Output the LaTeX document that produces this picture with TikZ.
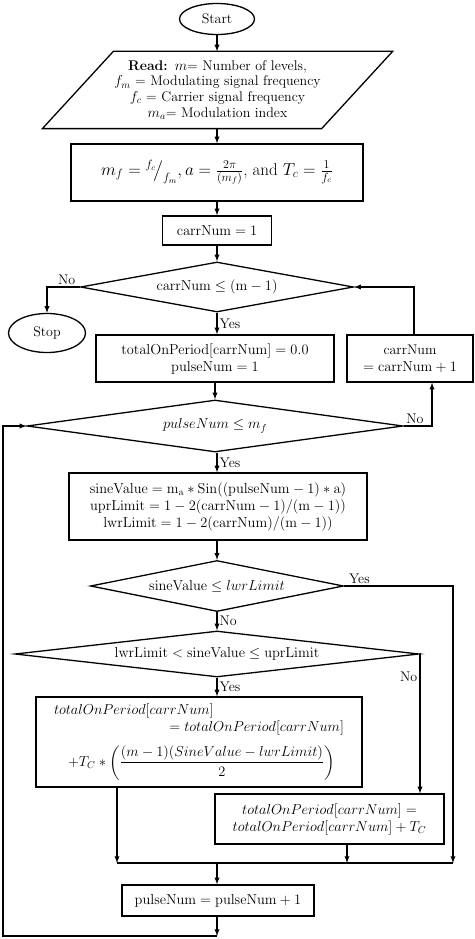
\documentclass[tikz,border=0pt]{standalone}
\usepackage{amsmath}
\usepackage{tikz}
\usetikzlibrary{shapes,arrows,positioning}
\newcommand{\bigfont}{\fontsize{14}{17}\selectfont}
\newcommand{\vn}[1]{\mathrm{#1}}
\tikzstyle{term} = [ellipse, draw, line width=1.3pt, inner sep=0pt, font=\bigfont]
\tikzstyle{proc} = [rectangle, draw, line width=1.3pt, align=center, inner sep=0pt, font=\bigfont]
\tikzstyle{cond} = [diamond, draw, line width=1.3pt, inner sep=0pt, font=\bigfont]
\tikzstyle{line} = [draw, line width=1.3pt]
\tikzstyle{flow} = [draw, line width=1.3pt, -latex]
\tikzstyle{lbl} = [font=\bigfont, inner sep=2pt]

\begin{document}
\begin{tikzpicture}[x=1pt, y=-1pt]
	\useasboundingbox (0,0) rectangle (474,939);
	\node [term, minimum width=75pt, minimum height=31pt] (start) at (217,19) {Start};
	\node [proc, draw=none, minimum width=278pt, minimum height=76pt, font=\fontsize{14}{15.7}\selectfont] (read) at (217.5,90) {\textbf{Read:}\enspace $m$= Number of levels,\\ $f_m$ = Modulating signal frequency\\ $f_c$ = Carrier signal frequency\\ $m_a$= Modulation index};
	\path [line] ([xshift=35.5pt]read.north west) -- ([xshift=35.5pt]read.north east) -- ([xshift=-35.5pt]read.south east) -- ([xshift=-35.5pt]read.south west) -- cycle;
	\node [proc, minimum width=292pt, minimum height=57pt, font=\fontsize{17}{20}\selectfont] (ratio) at (217,172.5) {$m_f = {}^{f_c}\!\big/_{f_m}, a = \frac{2\pi}{(m_f)}$, and $T_c = \frac{1}{f_c}$};
	\node [proc, minimum width=109pt, minimum height=29pt] (init) at (217,230.5) {$\vn{carrNum} = 1$};
	\node [cond, aspect=5.5, minimum width=273pt, minimum height=50pt] (chkcarr) at (217,287) {$\vn{carrNum} \leq (\vn{m}-1)$};
	\node [term, minimum width=77pt, minimum height=39pt] (stop) at (47,333) {Stop};
	\node [proc, minimum width=238pt, minimum height=47pt] (reset) at (215,358.5) {$\vn{totalOnPeriod[carrNum]} = 0.0$\\ $\vn{pulseNum} = 1$};
	\node [proc, minimum width=126pt, minimum height=47pt] (inc) at (410,358.5) {carrNum\\ $= \vn{carrNum} + 1$};
	\node [cond, aspect=7.2, minimum width=376pt, minimum height=52pt] (chkpulse) at (215,426) {$pulseNum \leq m_f$};
	\node [proc, minimum width=298pt, minimum height=67pt] (calc) at (218,506.5) {$\vn{sineValue} = \vn{m_a} * \vn{Sin}((\vn{pulseNum}-1)*\vn{a})$\\ $\vn{uprLimit} = 1 - 2(\vn{carrNum}-1)/(\vn{m}-1))$\\ $\vn{lwrLimit} = 1 - 2(\vn{carrNum})/(\vn{m}-1))$};
	\node [cond, aspect=5, minimum width=253pt, minimum height=51pt] (chkl) at (217,586) {$\vn{sineValue} \leq lwrLimit$};
	\node [cond, aspect=8.8, minimum width=404pt, minimum height=46pt] (chkband) at (217,654) {$\vn{lwrLimit} < \vn{sineValue} \leq \vn{uprLimit}$};
	\node [proc, align=left, minimum width=326pt, minimum height=90pt] (partial) at (199,742) {\makebox[290pt][l]{$totalOnPeriod[carrNum]$}\\ \makebox[290pt][r]{$= totalOnPeriod[carrNum]$}\\[9pt] \makebox[290pt][l]{\hspace{14pt}$+T_C * \left(\dfrac{(m-1)(SineValue-lwrLimit)}{2}\right)$}};
	\node [proc, minimum width=229pt, minimum height=50pt] (full) at (329.5,819) {$totalOnPeriod[carrNum] =$\\ $totalOnPeriod[carrNum] + T_C$};
	\node [proc, minimum width=192pt, minimum height=31pt] (next) at (218,900.5) {$\vn{pulseNum} = \vn{pulseNum} + 1$};
	
	\coordinate (jl) at (117,863);
	\coordinate (jm) at (347,863);
	\coordinate (jc) at (217,863);
	\coordinate (jr) at (453,863);
	\coordinate (back) at (217,936);
	\coordinate (corner) at (3,936);
	
	\path [flow] (start.south) -- (start.south |- read.north);
	\path [flow] (read.south -| start.south) -- (start.south |- ratio.north);
	\path [flow] (ratio.south) -- (ratio.south |- init.north);
	\path [flow] (init.south) -- (init.south |- chkcarr.north);
	\path [flow] (chkcarr.west) -| node [lbl, above, pos=0.2] {No} (stop.north);
	\path [flow] (chkcarr.south) -- node [lbl, right] {Yes} (chkcarr.south |- reset.north);
	\path [flow] ([xshift=4pt]inc.north) |- (chkcarr.east);
	\path [flow] (reset.south) -- (reset.south |- chkpulse.north);
	\path [flow] (chkpulse.east) -| node [lbl, above, pos=0.2] {No} ([xshift=22pt]inc.south);
	\path [flow] (chkpulse.south -| chkl.south) -- node [lbl, right] {Yes} (chkl.south |- calc.north);
	\path [flow] (calc.south -| chkl.south) -- (chkl.north);
	\path [flow] (chkl.east) -| node [lbl, above, pos=0.07] {Yes} (jr);
	\path [flow] (chkl.south) -- node [lbl, right] {No} (chkband.north);
	\path [flow] (chkband.east) -| node [lbl, left, pos=0.58] {No} ([xshift=90.5pt]full.north);
	\path [flow] (chkband.south) -- node [lbl, right] {Yes} (chkband.south |- partial.north);
	\path [flow] (partial.south -| jl) -- (jl);
	\path [flow] (full.south -| jm) -- (jm);
	\path [line] (jl) -- (jr);
	\path [flow] (jc) -- (jc |- next.north);
	\path [flow] (next.south -| jc) -- (back);
	\path [flow] (back) -- (corner) |- (chkpulse.west);
\end{tikzpicture}
\end{document}
